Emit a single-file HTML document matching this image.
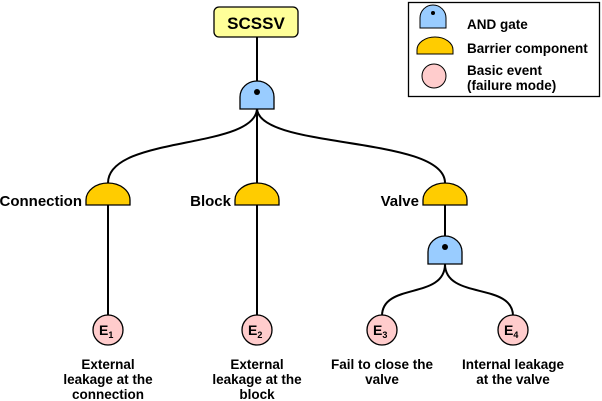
<!DOCTYPE html>
<html><head><style>body{margin:0;background:#fff}svg{display:block}text{font-family:"Liberation Sans",sans-serif;font-weight:bold;fill:#000}</style></head><body>
<svg width="602" height="401" viewBox="0 0 602 401">
<defs>
<g id="and"><path d="M-17,14 L-17,2 A17,16 0 0 1 17,2 L17,14 Z" fill="#99ccff" stroke="#000" stroke-width="1.3"/><circle cx="0" cy="-3" r="3" fill="#000"/></g>
<g id="bar"><path d="M-22,11 L-22,6 A22,17 0 0 1 22,6 L22,11 Z" fill="#ffcc00" stroke="#000" stroke-width="1.3"/></g>
</defs>
<g fill="none" stroke="#000" stroke-width="2">
<line x1="257" y1="37" x2="257" y2="84"/>
<path d="M257,108 C257,150 108,135 108,183"/>
<line x1="257" y1="108" x2="257" y2="183"/>
<path d="M257,108 C257,150 445,135 445,183"/>
<line x1="108" y1="205" x2="108" y2="316"/>
<line x1="257" y1="205" x2="257" y2="316"/>
<line x1="445" y1="205" x2="445" y2="238"/>
<path d="M445,264 C445,300 382,282 382,316"/>
<path d="M445,264 C445,300 513,282 513,316"/>
</g>
<rect x="214" y="7" width="84" height="30" rx="5" fill="#ffff99" stroke="#000" stroke-width="1.3"/>
<text x="256" y="29" font-size="17" text-anchor="middle">SCSSV</text>
<use href="#and" x="257" y="95"/>
<use href="#bar" x="108" y="194"/>
<use href="#bar" x="257" y="194"/>
<use href="#bar" x="445" y="194"/>
<use href="#and" x="445" y="250"/>
<g font-size="15"><text x="82" y="206" text-anchor="end">Connection</text><text x="231" y="206" text-anchor="end">Block</text><text x="419" y="206" text-anchor="end">Valve</text></g>
<g fill="#ffcccc" stroke="#000" stroke-width="1.3">
<circle cx="108" cy="330" r="15"/><circle cx="257" cy="330" r="15"/><circle cx="382" cy="330" r="15"/><circle cx="513" cy="330" r="15"/></g>
<g font-size="14"><text x="99" y="335">E<tspan font-size="9" dy="3">1</tspan></text><text x="248" y="335">E<tspan font-size="9" dy="3">2</tspan></text><text x="373" y="335">E<tspan font-size="9" dy="3">3</tspan></text><text x="504" y="335">E<tspan font-size="9" dy="3">4</tspan></text></g>
<g font-size="13.5" text-anchor="middle">
<text x="108" y="369">External</text><text x="108" y="384">leakage at the</text><text x="108" y="399">connection</text>
<text x="257" y="369">External</text><text x="257" y="384">leakage at the</text><text x="257" y="399">block</text>
<text x="382" y="369">Fail to close the</text><text x="382" y="384">valve</text>
<text x="513" y="369">Internal leakage</text><text x="513" y="384">at the valve</text>
</g>
<rect x="408.5" y="2.5" width="191" height="94" fill="none" stroke="#000" stroke-width="1.3"/>
<path d="M420,28 L420,18 A13,13 0 0 1 446,18 L446,28 Z" fill="#99ccff" stroke="#000" stroke-width="1"/><circle cx="433" cy="13" r="2" fill="#000"/>
<path d="M417,54 L417,50 A18,13 0 0 1 453,50 L453,54 Z" fill="#ffcc00" stroke="#000" stroke-width="1"/>
<circle cx="434" cy="76" r="12" fill="#ffcccc" stroke="#000" stroke-width="1"/>
<g font-size="13.5"><text x="467" y="29">AND gate</text><text x="467" y="53">Barrier component</text><text x="467" y="75">Basic event</text><text x="467" y="90">(failure mode)</text></g>
</svg>
</body></html>
